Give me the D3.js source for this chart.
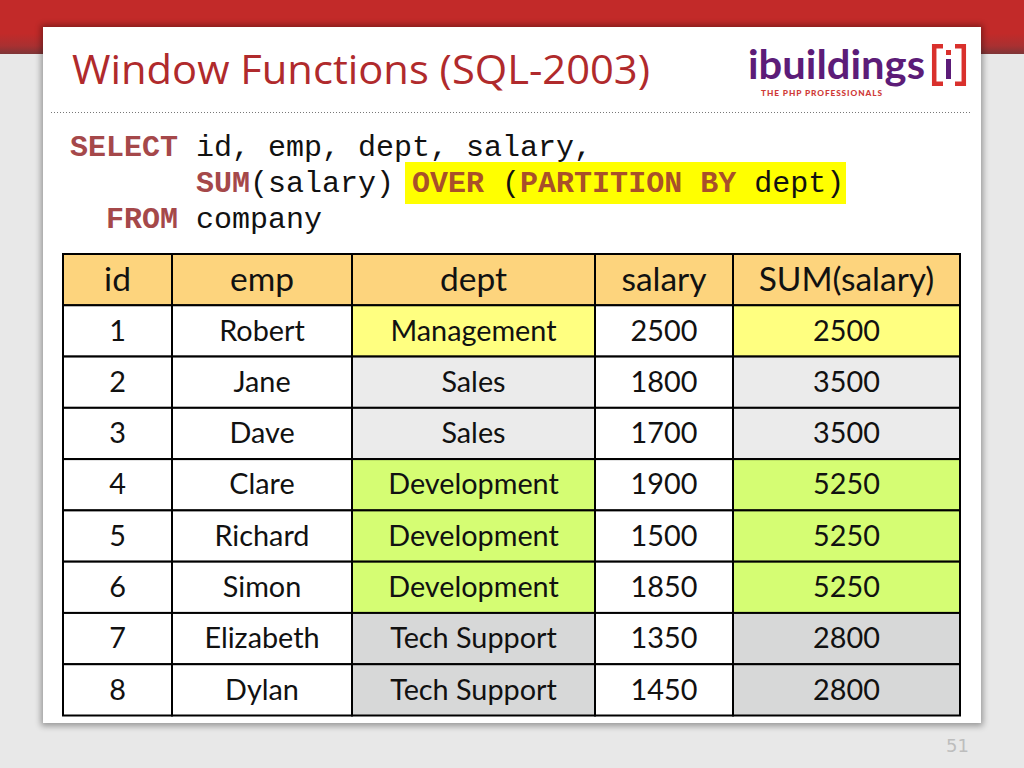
<!DOCTYPE html>
<html><head><meta charset="utf-8">
<script src="https://cdn.jsdelivr.net/npm/d3@7/dist/d3.min.js"></script>
<style>html,body{margin:0;padding:0;background:#e8e8e8;overflow:hidden}svg{display:block}</style>
</head><body><svg id="c" width="1024" height="768"></svg>
<script>
const columns = ["id","emp","dept","salary","SUM(salary)"];
const ids = ["1","2","3","4","5","6","7","8"];
const emps = ["Robert","Jane","Dave","Clare","Richard","Simon","Elizabeth","Dylan"];
const depts = ["Management","Sales","Sales","Development","Development","Development","Tech Support","Tech Support"];
const salaries = [2500,1800,1700,1900,1500,1850,1350,1450];
const sums = [2500,3500,3500,5250,5250,5250,2800,2800];
const titleText = "Window Functions (SQL-2003)";
const pageNumber = "51";

const svg = d3.select("#c");
const defs = svg.append("defs");
const g1 = defs.append("linearGradient").attr("id","band").attr("x1",0).attr("x2",0).attr("y1",0).attr("y2",1);
[[0,"#c22a29"],[0.62,"#c22a29"],[0.85,"#a93031"],[1,"#7e3537"]].forEach(s=>g1.append("stop").attr("offset",s[0]).attr("stop-color",s[1]));
const blur = defs.append("filter").attr("id","sh").attr("x","-5%").attr("y","-5%").attr("width","110%").attr("height","110%");
blur.append("feGaussianBlur").attr("stdDeviation",3);

svg.append("rect").attr("width",1024).attr("height",768).attr("fill","#e8e8e8");
svg.append("rect").attr("width",1024).attr("height",54).attr("fill","url(#band)");
svg.append("rect").attr("x",41).attr("y",25).attr("width",942).attr("height",701).attr("fill","#000").attr("opacity",0.35).attr("filter","url(#sh)");
svg.append("rect").attr("x",43).attr("y",27).attr("width",938).attr("height",696).attr("fill","#fff");

svg.append("text").attr("x",72).attr("y",84).text(titleText)
  .attr("font-family","'Open Sans'").attr("font-size",41).attr("fill","#b02a2c")
  .attr("textLength",578).attr("lengthAdjust","spacingAndGlyphs");
svg.append("line").attr("x1",51).attr("x2",972).attr("y1",112.5).attr("y2",112.5)
  .attr("stroke","#777").attr("stroke-dasharray","1 2");

// logo
svg.append("text").attr("x",748).attr("y",79).text("ibuildings")
  .attr("font-family","Lato").attr("font-weight",700).attr("font-size",41).attr("fill","#5c1c78")
  .attr("textLength",177).attr("lengthAdjust","spacingAndGlyphs");
svg.append("text").attr("x",761).attr("y",96).text("THE PHP PROFESSIONALS")
  .attr("font-family","Lato").attr("font-weight",900).attr("font-size",8.3).attr("fill","#cf3a37")
  .attr("textLength",121);
const brk = svg.append("g").attr("fill","none").attr("stroke","#d9302c").attr("stroke-width",4.5);
brk.append("path").attr("d","M 943 46.2 H 934.2 V 83.8 H 943");
brk.append("path").attr("d","M 955 46.2 H 963.8 V 83.8 H 955");
svg.append("rect").attr("x",946).attr("y",50).attr("width",5).attr("height",5).attr("fill","#d9302c");
svg.append("rect").attr("x",946).attr("y",59).attr("width",5).attr("height",20).attr("fill","#5c1c78");

// SQL
const sqlX = 70;
const sqlLines = [
  [["SELECT",1],[" id, emp, dept, salary,",0]],
  [["       ",0],["SUM",1],["(salary) ",0],["OVER",1],[" (",0],["PARTITION BY",1],[" dept)",0]],
  [["  ",0],["FROM",1],[" company",0]]
];
svg.append("rect").attr("x",405).attr("y",162).attr("width",441).attr("height",42).attr("fill","#ffff00");
sqlLines.forEach((ln,i)=>{
  const t = svg.append("text").attr("x",sqlX).attr("y",156+36*i).attr("xml:space","preserve")
    .style("white-space","pre").attr("font-family","'Liberation Mono'").attr("font-size",30);
  ln.forEach(s=>t.append("tspan").text(s[0]).attr("font-weight",s[1]?700:400)
    .attr("fill", s[1] ? ((i===1&&s[0]!=="SUM")?"#a8502a":"#a5484a") : "#111"));
});

// table
const edges = [63,172,352,595,733,960];
const x0 = d3.scaleOrdinal().domain(columns).range(edges.slice(0,5));
const x1 = d3.scaleOrdinal().domain(columns).range(edges.slice(1));
const y = d3.scaleBand().domain(["h",...ids]).range([254,715.5]);
const rows = [{k:"h",cells:columns,fill:null}].concat(ids.map((id,i)=>({k:id,cells:[id,emps[i],depts[i],salaries[i],sums[i]],dept:depts[i]})));
const deptFill = d3.scaleOrdinal().domain(["Management","Sales","Development","Tech Support"]).range(["#ffff80","#ebebeb","#d5fd73","#d7d8d8"]);
const cellData = rows.flatMap(r=>r.cells.map((v,j)=>({r,v,col:columns[j],j})));
const fillOf = d => d.r.k==="h" ? "#fdd47d" : ((d.j===2||d.j===4) ? deptFill(d.r.dept) : "#fff");
const cells = svg.append("g").selectAll("g").data(cellData).join("g");
cells.append("rect").attr("x",d=>x0(d.col)).attr("y",d=>y(d.r.k))
  .attr("width",d=>x1(d.col)-x0(d.col)).attr("height",y.bandwidth())
  .attr("fill",fillOf).attr("stroke","#000").attr("stroke-width",2);
cells.append("text").attr("x",d=>(x0(d.col)+x1(d.col))/2)
  .attr("y",d=>y(d.r.k)+y.bandwidth()/2+(d.r.k==="h"?11:9.7))
  .attr("text-anchor","middle").attr("font-family","Lato")
  .attr("font-size",d=>d.r.k==="h"?33.5:28.8).attr("fill","#111").text(d=>d.v);

svg.append("text").attr("x",969).attr("y",752).attr("text-anchor","end").text(pageNumber)
  .attr("font-family","'DejaVu Sans'").attr("font-size",18).attr("fill","#bdbdbd");
</script></body></html>
